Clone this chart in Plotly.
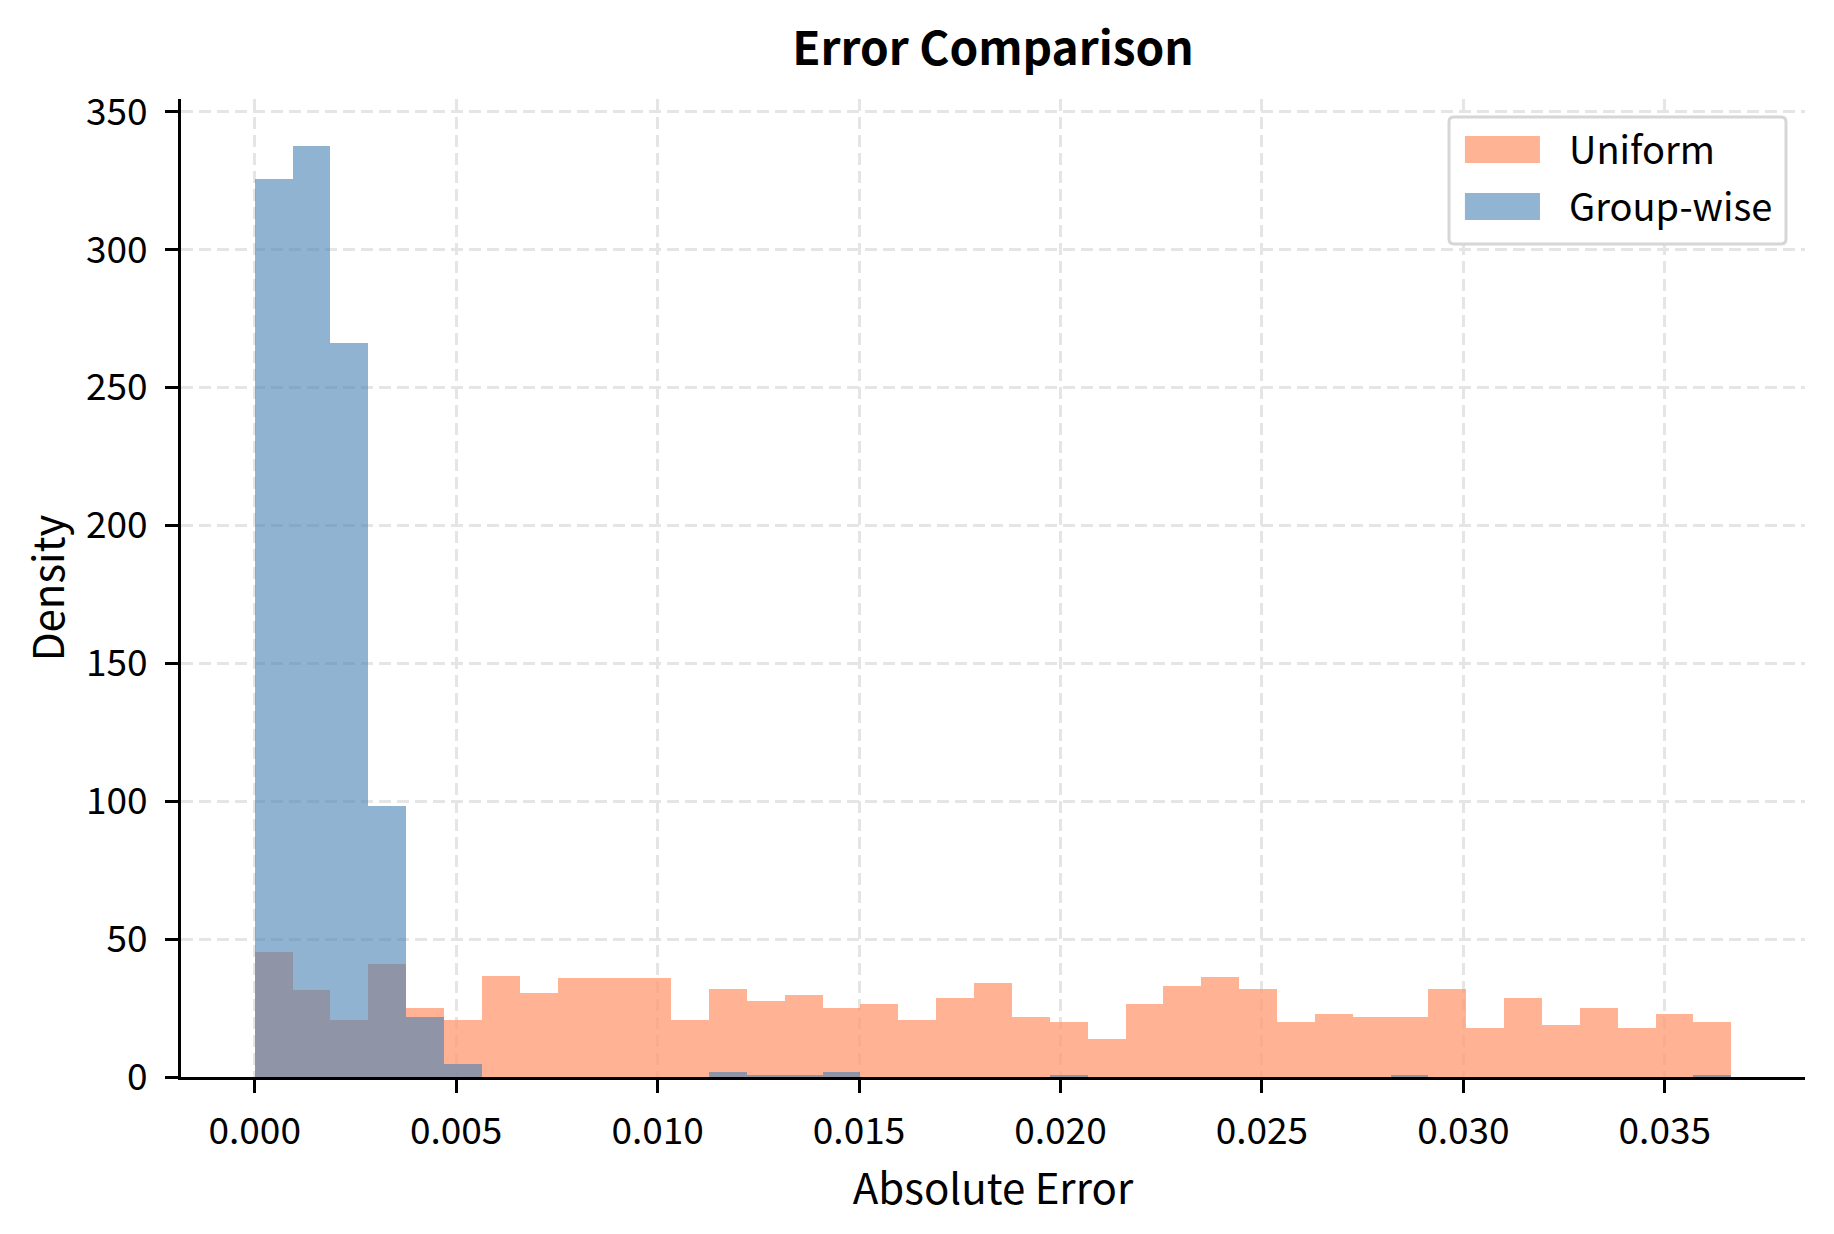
import numpy as np
import plotly.graph_objects as go

# histogram binning (39 equal bins from 0 to max error)
BIN_MAX = 0.03665
N_BINS = 39

uniform_density = [
    45.3, 31.4, 20.5, 40.8, 25.0, 20.7, 36.8, 30.6, 36.0, 36.0,
    36.0, 20.8, 31.8, 27.4, 29.6, 25.2, 26.3, 20.8, 28.5, 34.0,
    21.9, 20.1, 13.6, 26.3, 32.9, 36.2, 31.8, 20.1, 23.0, 21.9,
    21.9, 31.8, 17.9, 28.5, 19.0, 25.2, 17.9, 23.0, 20.1,
]
groupwise_density = [
    325.7, 337.7, 266.3, 98.3, 21.7, 4.7, 0, 0, 0, 0,
    0, 0, 1.8, 0.7, 0.7, 1.8, 0, 0, 0, 0,
    0, 0.7, 0, 0, 0, 0, 0, 0, 0, 0,
    0.7, 0, 0, 0, 0, 0, 0, 0, 0.7,
]
x_ticks = [0.000, 0.005, 0.010, 0.015, 0.020, 0.025, 0.030, 0.035]
y_ticks = [0, 50, 100, 150, 200, 250, 300, 350]

series = [("Uniform", uniform_density, "lightsalmon", 0.8),
          ("Group-wise", groupwise_density, "steelblue", 0.6)]

edges = np.linspace(0, BIN_MAX, N_BINS + 1)
bw = edges[1] - edges[0]

FONT = "Noto Sans CJK SC, Source Sans Pro, sans-serif"
GRID = "#e5e5e5"
W, H = 1826, 1226   # page body adds an 8px margin

fig = go.Figure()
for name, vals, color, alpha in series:
    fig.add_trace(go.Bar(
        x=edges[:-1], y=vals, width=bw, offset=0, name=name,
        marker=dict(color=color, line=dict(width=0)),
        opacity=alpha, showlegend=False,
    ))

axis_common = dict(
    showline=True, linecolor="black", linewidth=3,
    ticks="outside", ticklen=13, tickwidth=3, tickcolor="black",
    showgrid=True, gridcolor=GRID, gridwidth=2.5, griddash="12px,6px",
    zeroline=False, mirror=False, automargin=False,
    tickfont=dict(family=FONT, size=37, color="black"),
)

# matplotlib-style legend box (paper coords)
bx0, bx1, by0, by1 = 0.7808, 0.9883, 0.8517, 0.9816
rx, ry = 0.0031, 0.0051
frame = (f"M {bx0+rx},{by0} L {bx1-rx},{by0} Q {bx1},{by0} {bx1},{by0+ry} "
         f"L {bx1},{by1-ry} Q {bx1},{by1} {bx1-rx},{by1} L {bx0+rx},{by1} "
         f"Q {bx0},{by1} {bx0},{by1-ry} L {bx0},{by0+ry} Q {bx0},{by0} {bx0+rx},{by0} Z")
shapes = [dict(type="path", path=frame, xref="paper", yref="paper",
               fillcolor="white", line=dict(color="#d6d6d6", width=3), layer="above")]
annotations = []
rows = [(0.9346, 0.9622, 0.9508), (0.8763, 0.9039, 0.8925)]
for (name, _, color, alpha), (py0, py1, ty) in zip(series, rows):
    shapes.append(dict(type="rect", xref="paper", yref="paper",
                       x0=0.7906, x1=0.8368, y0=py0, y1=py1,
                       fillcolor=color, opacity=alpha, line=dict(width=0),
                       layer="above"))
    annotations.append(dict(text=name, xref="paper", yref="paper", x=0.8534, y=ty,
                            xanchor="left", yanchor="middle", showarrow=False,
                            font=dict(family=FONT, size=38, color="black")))

fig.update_layout(
    width=W, height=H,
    paper_bgcolor="white", plot_bgcolor="white",
    barmode="overlay", bargap=0,
    margin=dict(l=173, r=29, t=91, b=157, autoexpand=False),
    font=dict(family=FONT, color="black"),
    title=dict(text="<b>Error Comparison</b>", x=0.5, xref="paper", xanchor="center",
               y=1 - 41 / H, yanchor="middle",
               font=dict(family=FONT, size=46, color="black")),
    xaxis=dict(axis_common, range=[-0.00183, 0.03848], tickvals=x_ticks,
               tickformat=".3f", ticklabelstandoff=7,
               title=dict(text="Absolute Error", standoff=4,
                          font=dict(family=FONT, size=42, color="black"))),
    yaxis=dict(axis_common, range=[0, 354.6], tickvals=y_ticks,
               ticklabelstandoff=10,
               title=dict(text="Density", standoff=9,
                          font=dict(family=FONT, size=42, color="black"))),
    shapes=shapes,
    annotations=annotations,
    showlegend=False,
)

fig.write_html("out.html")
